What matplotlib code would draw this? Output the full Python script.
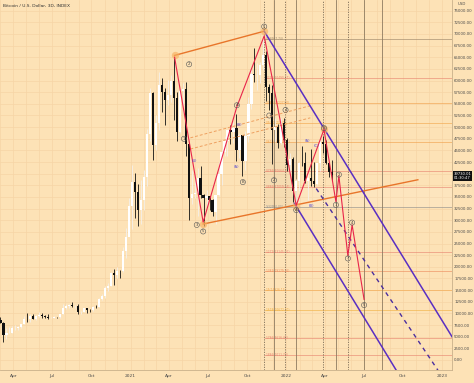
import datetime as dt
import numpy as np
import matplotlib.pyplot as plt
import matplotlib.dates as mdates

# weekly BTC candles (high, low, close), first week starts 2020-03-02
FIRST_WEEK = dt.date(2020, 3, 2)
FIRST_OPEN = 8520
HIGHS = [
    9170, 8150, 6900, 6980, 7200, 7470, 7300, 7750, 9460, 10070, 9950, 9850, 9600,
    10400, 10000, 9600, 9780, 9330, 9450, 9330, 9950, 12100, 12000, 12100, 12480,
    11800, 12080, 10600, 11180, 10980, 10950, 11500, 11740, 13350, 14100, 15970,
    16480, 18800, 19500, 19920, 19420, 24300, 28400, 34800,
    41950, 40100, 37800, 38600, 40900, 49700, 58300, 57600, 52600, 61800, 60600,
    58500, 60100, 61300, 64850, 57500, 58400, 59500, 59600, 46600, 40900, 39500,
    41300, 41600, 35700, 36600, 35200, 34600, 35400, 42600, 45300, 48100, 49300,
    50500, 51000, 52900, 48800, 48000, 49200, 56500, 62900, 67000, 63700, 64000,
    69000, 66300, 59300, 59000, 51900, 50600, 52000, 52000,
    47600, 44400, 43500, 38900, 42600, 45900, 44700, 40000, 45400, 42500, 42300,
    47500, 48200, 47200, 42400, 42900]
LOWS = [
    7850, 3850, 4450, 5700, 5860, 6470, 6470, 6800, 7650, 8100, 8200, 8800, 8630,
    9270, 9000, 9030, 8880, 8950, 9070, 9000, 9100, 9900, 11000, 11150, 11300,
    11150, 9900, 9880, 10200, 10150, 10400, 10530, 11180, 11330, 12980, 13210,
    14800, 15800, 16200, 17600, 17600, 19000, 21800, 26700,
    28100, 30400, 28800, 29250, 32300, 37350, 47100, 43000, 45000, 49300, 53300,
    50400, 54700, 55500, 51500, 47000, 48800, 53000, 43800, 30000, 33400, 34800,
    31000, 34800, 28800, 32700, 32100, 31000, 29300, 35200, 37500, 43800, 43900,
    46300, 46600, 42800, 43400, 39600, 40800, 46900, 53900, 59600, 58000, 59400,
    62300, 55600, 53600, 42000, 46800, 45600, 46400, 45700,
    40600, 39700, 34000, 32950, 36300, 41700, 37900, 34300, 37400, 37200, 37600,
    40600, 44400, 42000, 39200, 38500]
CLOSES = [
    8040, 5360, 5830, 5880, 6780, 6900, 7120, 7700, 8900, 8720, 9380, 8900, 9450,
    9660, 9390, 9300, 9010, 9070, 9300, 9180, 9930, 11070, 11680, 11870, 11650,
    11700, 10250, 10330, 11080, 10730, 10670, 11380, 11360, 13030, 13800, 15480,
    15960, 18700, 18180, 19150, 19140, 23470, 26480, 33000,
    38200, 36000, 32260, 34300, 39250, 48600, 57400, 46100, 50950, 59000, 57600,
    55800, 57000, 60000, 56200, 49000, 57800, 58200, 46400, 34700, 35700, 35800,
    39100, 35500, 34700, 35300, 34260, 31800, 35400, 39850, 44600, 47100, 49300,
    48900, 49900, 45100, 48300, 42800, 48200, 54900, 61500, 61300, 61300, 63300,
    65500, 58600, 57300, 49400, 50100, 46700, 50800, 47300,
    41800, 43100, 36300, 38500, 42400, 42200, 38400, 39100, 38400, 37800, 42200,
    46800, 46400, 42200, 40400, 39730]

# drawings (date, price)
ORANGE_TOP = [("2021-04-14", 65400), ("2021-11-10", 70600)]
ORANGE_BOTTOM = [("2021-06-20", 29200), ("2022-11-05", 38700)]
ORANGE_DASH_1 = [("2021-05-21", 47700), ("2022-02-26", 54600)]
ORANGE_DASH_2 = [("2021-05-21", 45300), ("2022-02-26", 52000)]
PURPLE_TOP = [("2021-11-10", 70600), ("2023-01-24", 5000)]
PURPLE_BOTTOM = [("2022-01-20", 33600), ("2022-09-22", -3200)]
PURPLE_MID = [("2022-03-12", 36800), ("2022-12-22", -2200)]
RED_WAVE = [("2021-04-14", 65000), ("2021-06-20", 29600), ("2021-09-07", 54400),
            ("2021-11-10", 69600), ("2022-01-24", 33200), ("2022-03-30", 49500),
            ("2022-04-27", 34000), ("2022-05-04", 39500), ("2022-05-25", 22400),
            ("2022-06-04", 29000), ("2022-07-02", 13000)]
ANCHORS = [("2021-04-14", 65400), ("2021-06-20", 29200), ("2021-11-10", 70600),
           ("2022-01-24", 33000), ("2022-03-30", 49500)]

FIB_HIGH, FIB_LOW = 68997.74, 32950.00
FIB_LEVELS = [0, 0.236, 0.382, 0.5, 0.618, 0.786, 0.886, 1,
              1.272, 1.382, 1.5, 1.618, 1.786, 1.886]
FIB_COLORS = ["#9a8466", "#e8836f", "#f0a04b", "#f2a64a", "#f0a04b", "#e8836f",
              "#e8836f", "#8e8e8e", "#e8836f", "#ec8a5c", "#f2a64a", "#f0b040",
              "#e8836f", "#e8836f"]
TIME_SOLID = ["2021-12-03", "2022-01-24", "2022-04-28", "2022-07-02", "2022-08-13"]
TIME_DOTTED = ["2021-11-10", "2021-12-29", "2022-03-28", "2022-05-26"]

CIRCLED = [("2021-05-06", 47500, "1"), ("2021-05-18", 63500, "2"), ("2021-06-05", 29000, "3"),
           ("2021-06-20", 27600, "5"), ("2021-09-07", 54700, "A"), ("2021-09-21", 38200, "B"),
           ("2021-11-10", 71600, "5"), ("2021-11-22", 52500, "1"), ("2021-12-03", 38600, "2"),
           ("2021-12-30", 53700, "4"), ("2022-01-24", 32200, "A"), ("2022-03-30", 49800, "B"),
           ("2022-04-27", 33300, "1"), ("2022-05-04", 39800, "2"), ("2022-05-25", 21800, "3"),
           ("2022-06-04", 29500, "4"), ("2022-07-02", 11800, "5")]
PURPLE_TXT = [("2021-05-31", 42700, "(4)"), ("2021-09-14", 50400, "(B)"),
              ("2021-09-07", 41500, "(A)"), ("2022-02-20", 47000, "(A)"),
              ("2022-03-12", 46000, "(C)"), ("2022-03-01", 33000, "(B)")]

QUARTERS = ["2020-04-01", "2020-07-01", "2020-10-01", "2021-01-01", "2021-04-01",
            "2021-07-01", "2021-10-01", "2022-01-01", "2022-04-01", "2022-07-01",
            "2022-10-01", "2023-01-01"]
QUARTER_LABELS = ["Apr", "Jul", "Oct", "2021", "Apr", "Jul", "Oct", "2022",
                  "Apr", "Jul", "Oct", "2023"]

BG = "#fde2b6"
GRID = "#f6d5a6"


def d(s):
    return mdates.date2num(dt.datetime.strptime(s, "%Y-%m-%d"))


def pts(seq):
    return [d(a) for a, _ in seq], [b for _, b in seq]


fig = plt.figure(figsize=(4.74, 3.83), dpi=100, facecolor=BG)
ax = fig.add_axes([0, 13 / 383, 452 / 474, 370 / 383])
ax.set_facecolor(BG)

xmin, xmax = d("2020-03-01"), d("2023-01-24")
ax.set_xlim(xmin, xmax)
ax.set_ylim(-2150, 77300)

# grid
for m in range(2020 * 12 + 2, 2023 * 12 + 1):
    ax.axvline(mdates.date2num(dt.datetime(m // 12, m % 12 + 1, 1)), color=GRID, lw=0.5, zorder=0)
yt = np.arange(0, 75001, 2500)
for v in yt:
    ax.axhline(v, color=GRID, lw=0.5, zorder=0)

# candles
dates = np.array([mdates.date2num(FIRST_WEEK + dt.timedelta(days=7 * i)) for i in range(len(CLOSES))])
closes = np.array(CLOSES, float)
opens = np.concatenate([[FIRST_OPEN], closes[:-1]])
up = closes >= opens
cols = np.where(up, "#ffffff", "#111111")
ax.vlines(dates, LOWS, HIGHS, colors=np.where(up, "#f4f0ea", "#111111"), lw=0.6, zorder=3)
ax.bar(dates, closes - opens, bottom=opens, width=5.2, color=cols, lw=0, zorder=3)

# fib retracement / extension
x0 = d("2021-11-10")
for lvl, c in zip(FIB_LEVELS, FIB_COLORS):
    p = FIB_HIGH - lvl * (FIB_HIGH - FIB_LOW)
    ax.hlines(p, x0, xmax, color=c, lw=0.6, alpha=0.7, zorder=2)
    ax.text(x0 + 4, p, f"{lvl:g}({p:.2f})", color=c, fontsize=2.1, va="center", zorder=2)
ax.fill_between([x0, d("2022-01-24")], FIB_HIGH - 0.618 * (FIB_HIGH - FIB_LOW), FIB_LOW,
                color="#9a8a7a", alpha=0.08, lw=0, zorder=1)
ax.fill_between([d("2022-01-24"), xmax], FIB_HIGH - 0.886 * (FIB_HIGH - FIB_LOW), FIB_LOW,
                color="#ffffff", alpha=0.12, lw=0, zorder=1)

# time zones
for s in TIME_SOLID:
    ax.axvline(d(s), color="#8d7b60", lw=0.6, zorder=2)
for s in TIME_DOTTED:
    ax.axvline(d(s), color="#7a6a55", lw=0.6, ls=(0, (1.5, 1.5)), zorder=2)

# trend lines
ax.plot(*pts(ORANGE_TOP), color="#e8752a", lw=1.0, zorder=4)
ax.plot(*pts(ORANGE_BOTTOM), color="#e8752a", lw=1.0, zorder=4)
ax.plot(*pts(ORANGE_DASH_1), color="#eea060", lw=0.7, ls=(0, (3, 2)), zorder=4)
ax.plot(*pts(ORANGE_DASH_2), color="#eea060", lw=0.7, ls=(0, (3, 2)), zorder=4)
ax.plot(*pts(PURPLE_TOP), color="#5a2fc2", lw=1.1, zorder=4)
ax.plot(*pts(PURPLE_BOTTOM), color="#5a2fc2", lw=1.1, zorder=4)
ax.plot(*pts(PURPLE_MID), color="#4b2e9e", lw=1.0, ls=(0, (3, 3)), zorder=4)
ax.plot(*pts(RED_WAVE), color="#e8244a", lw=0.8, zorder=5)
ax.scatter(*pts(ANCHORS), s=28, color="#f7b060", alpha=0.65, lw=0, zorder=4)

for s, p, t in CIRCLED:
    ax.text(d(s), p, t, fontsize=2.8, color="#444444", ha="center", va="center", zorder=6,
            bbox=dict(boxstyle="circle,pad=0.15", fc="none", ec="#555555", lw=0.4))
for s, p, t in PURPLE_TXT:
    ax.text(d(s), p, t, fontsize=2.8, color="#5b4fcf", ha="center", va="center", zorder=6)

# axes (the live price box sits on top of the 40000 label)
ax.yaxis.tick_right()
ax.set_yticks(yt)
ax.set_yticklabels(["" if v == 40000 else f"{v:.2f}" for v in yt])
ax.set_xticks([d(s) for s in QUARTERS])
ax.set_xticklabels(QUARTER_LABELS)
ax.tick_params(axis="y", length=0, labelsize=2.8, colors="#4a4a4a", pad=1.5)
ax.tick_params(axis="x", length=0, labelsize=3.2, colors="#4a4a4a", pad=3)
for side in ["top", "left"]:
    ax.spines[side].set_visible(False)
for side in ["right", "bottom"]:
    ax.spines[side].set_color("#c9b08a")
    ax.spines[side].set_linewidth(0.6)

ax.text(1.012, 0.995, "USD", transform=ax.transAxes, fontsize=2.8, color="#4a4a4a", va="top")
ax.text(1.003, CLOSES[-1] + 700, "39730.01\n01:30:47", transform=ax.get_yaxis_transform(),
        fontsize=2.7, color="white", va="top", linespacing=1.2,
        bbox=dict(boxstyle="square,pad=0.2", fc="#111111", ec="none"), zorder=10, clip_on=False)
ax.text(0.006, 0.99, "Bitcoin / U.S. Dollar, 3D, INDEX", transform=ax.transAxes,
        fontsize=3.2, color="#333333", va="top")

fig.savefig("out.png", dpi=100, facecolor=BG)
